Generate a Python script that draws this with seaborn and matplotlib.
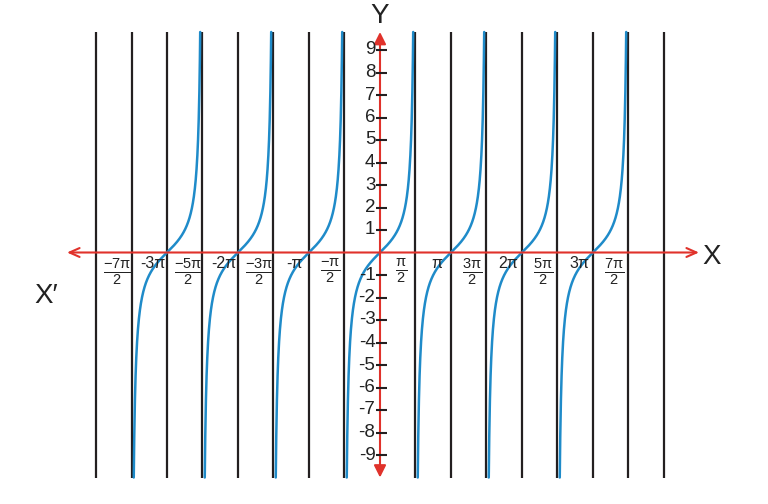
import matplotlib
matplotlib.use("Agg")
import matplotlib.pyplot as plt
import numpy as np
import pandas as pd
import seaborn as sns

# y = tan x, one branch around each of these centres (multiples of pi)
BRANCH_CENTRES = [-3, -2, -1, 0, 1, 2, 3]
# black vertical guides, multiples of pi/2 (the y axis takes the place of 0)
GUIDE_LINES = [-8, -7, -6, -5, -4, -3, -2, -1, 1, 2, 3, 4, 5, 6, 7, 8]
# x tick labels, multiples of pi/2
X_TICKS = [-7, -6, -5, -4, -3, -2, -1, 1, 2, 3, 4, 5, 6, 7]
X_TICK_LABELS = [
    r"$\frac{\mathrm{-}7\pi}{2}$", "-3\u03c0", r"$\frac{\mathrm{-}5\pi}{2}$", "-2\u03c0",
    r"$\frac{\mathrm{-}3\pi}{2}$", "-\u03c0", r"$\frac{\mathrm{-}\pi}{2}$", r"$\frac{\pi}{2}$",
    "\u03c0", r"$\frac{3\pi}{2}$", "2\u03c0", r"$\frac{5\pi}{2}$", "3\u03c0", r"$\frac{7\pi}{2}$",
]
Y_TICKS = [-9, -8, -7, -6, -5, -4, -3, -2, -1, 1, 2, 3, 4, 5, 6, 7, 8, 9]
Y_TOP, Y_BOTTOM = 9.8, -10.0

BLUE = "#1f8bc9"
RED = "#e0322b"
BLACK = "#231f20"
TEXT = "#222222"

# pixel scale of the reference (768x504)
PX = (np.pi / 2) / 35.5      # radians per pixel
PY = 1 / 22.5                # y units per pixel


def tan_branches() -> pd.DataFrame:
    t = np.linspace(np.arctan(Y_BOTTOM), np.arctan(Y_TOP), 400)
    parts = [pd.DataFrame({"x": c * np.pi + t, "y": np.tan(t), "branch": c}) for c in BRANCH_CENTRES]
    return pd.concat(parts, ignore_index=True)


def main() -> None:
    sns.set_style("white")
    plt.rcParams["font.family"] = ["Liberation Sans", "DejaVu Sans"]
    plt.rcParams["mathtext.fontset"] = "custom"
    plt.rcParams["mathtext.rm"] = "Liberation Sans"
    plt.rcParams["mathtext.it"] = "Liberation Sans"

    fig = plt.figure(figsize=(7.68, 5.04), dpi=100)
    ax = fig.add_axes([0, 0, 1, 1])
    ax.set_xlim(-380 * PX, 388 * PX)
    ax.set_ylim(-(504 - 252.5) * PY, 252.5 * PY)
    ax.axis("off")

    guides = np.array(GUIDE_LINES) * np.pi / 2
    ax.vlines(guides, Y_BOTTOM, Y_TOP, color=BLACK, lw=1.6, zorder=1)

    sns.lineplot(data=tan_branches(), x="x", y="y", units="branch", estimator=None,
                 color=BLUE, lw=1.8, sort=False, ax=ax, zorder=2)

    # axes with arrows
    ax.annotate("", xy=((699 - 380) * PX, 0), xytext=((67 - 380) * PX, 0),
                arrowprops=dict(arrowstyle="<->,head_length=0.72,head_width=0.32",
                                color=RED, lw=1.5, shrinkA=0, shrinkB=0), zorder=3)
    ax.annotate("", xy=(0, Y_TOP), xytext=(0, Y_BOTTOM),
                arrowprops=dict(arrowstyle="<|-|>,head_length=0.72,head_width=0.36",
                                color=RED, lw=1.5, shrinkA=0, shrinkB=0), zorder=3)

    # y ticks and labels
    ax.hlines(Y_TICKS, -4 * PX, 7 * PX, color=BLACK, lw=1.5, zorder=4)
    for v in Y_TICKS:
        ax.text(-4.5 * PX, v, str(v), ha="right", va="center", fontsize=13.5, color=TEXT, zorder=4)

    # x tick labels, placed just left of their guide line
    for k, lab in zip(X_TICKS, X_TICK_LABELS):
        frac = lab.startswith("$")
        ax.text(k * np.pi / 2 - 14 * PX, -3.5 * PY, lab, ha="center", va="top",
                fontsize=15 if frac else 11.5, color=TEXT, zorder=4)

    ax.text(0, (252.5 - 23) * PY, "Y", ha="center", va="baseline", fontsize=20, color=TEXT)
    ax.text((712 - 380) * PX, (252.5 - 264) * PY, "X", ha="center", va="baseline", fontsize=20, color=TEXT)
    ax.text((46 - 380) * PX, (252.5 - 303) * PY, "X\u2032", ha="center", va="baseline",
            fontsize=20, color=TEXT)

    fig.savefig("out.png", dpi=100)
    plt.close(fig)


if __name__ == "__main__":
    main()
